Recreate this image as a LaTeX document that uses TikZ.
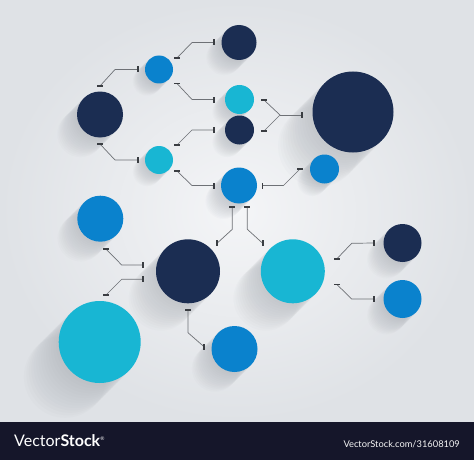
\documentclass[tikz,border=0pt]{standalone}
\usepackage{fontspec}
\newfontfamily\wmfont{Lato}
\usetikzlibrary{calc,backgrounds}

\definecolor{dotnavy}{HTML}{1B2D52}
\definecolor{dotblue}{HTML}{0A82CD}
\definecolor{dotcyan}{HTML}{18B6D3}
\definecolor{linkgray}{HTML}{6E7176}
\definecolor{tickgray}{HTML}{3A3D42}
\definecolor{bginner}{HTML}{F4F5F7}
\definecolor{bgouter}{HTML}{DFE2E6}
\definecolor{shadowgray}{HTML}{9EA3AA}
\definecolor{barnavy}{HTML}{15162A}

\begin{document}
\begin{tikzpicture}[x=1pt, y=-1pt,
    navydot/.style ={circle, fill=dotnavy, inner sep=0pt},
    bluedot/.style ={circle, fill=dotblue, inner sep=0pt},
    cyandot/.style ={circle, fill=dotcyan, inner sep=0pt},
    link/.style ={draw=linkgray, line width=0.7pt},
    htick/.style ={fill=tickgray, inner sep=0pt, minimum width=6pt, minimum height=1.6pt},
    vtick/.style ={fill=tickgray, inner sep=0pt, minimum width=1.6pt, minimum height=6pt}]
   \useasboundingbox (0,0) rectangle (474,460);

   % circles
   \node[navydot, minimum size=35pt] (n1) at (239,42.5)  {};
   \node[navydot, minimum size=46pt] (n2) at (100,114.5) {};
   \node[navydot, minimum size=29pt] (n3) at (239.5,130) {};
   \node[navydot, minimum size=81pt] (n4) at (353,112)   {};
   \node[navydot, minimum size=64pt] (n5) at (188,271.3) {};
   \node[navydot, minimum size=38pt] (n6) at (402.5,243) {};
   \node[bluedot, minimum size=28pt] (b1) at (159,69.5)  {};
   \node[bluedot, minimum size=36pt] (b2) at (239,185.5) {};
   \node[bluedot, minimum size=29pt] (b3) at (324.5,169) {};
   \node[bluedot, minimum size=46pt] (b4) at (100.3,218.7) {};
   \node[bluedot, minimum size=46pt] (b5) at (234.5,349) {};
   \node[bluedot, minimum size=38pt] (b6) at (402.5,299) {};
   \node[cyandot, minimum size=29pt] (c1) at (239.5,99.5) {};
   \node[cyandot, minimum size=28pt] (c2) at (159,160)   {};
   \node[cyandot, minimum size=64pt] (c3) at (292.8,271.3) {};
   \node[cyandot, minimum size=82pt] (c4) at (99.7,342)  {};

   % connectors
   \draw[link] ($(b1)+(18,-11.5)$) node[htick]{} -- ++(15,-15.5) -- ($(n1)+(-25,0)$) node[vtick]{};
   \draw[link] ($(b1)+(18,14)$) node[htick]{} -- ++(15,16) -- ($(c1)+(-25.5,0)$) node[vtick]{};
   \draw[link] ($(n2)+(0,-28.5)$) node[htick]{} -- ++(15,-16.5) -- ($(b1)+(-21,0)$) node[vtick]{};
   \draw[link] ($(n2)+(0,29.5)$) node[htick]{} -- ++(15,16) -- ($(c2)+(-21,0)$) node[vtick]{};
   \draw[link] ($(c2)+(18,-15)$) node[htick]{} -- ++(15,-15) -- ($(n3)+(-25.5,0)$) node[vtick]{};
   \draw[link] ($(c2)+(18,11)$) node[htick]{} -- ++(15,14.5) -- ($(b2)+(-25,0)$) node[vtick]{};
   \draw[link] ($(b2)+(23.5,0)$) node[vtick]{} -- ++(21,0) -- ($(b3)+(-24.5,0)$) node[htick]{};

   \coordinate (fork) at ($(n4)+(-73,3)$);
   \draw[link] ($(c1)+(24.5,0.5)$) node[htick]{} -- (fork) -- ($(n3)+(24.5,1)$) node[htick]{};
   \draw[link] (fork) -- ($(n4)+(-51,3)$) node[vtick]{};

   \draw[link] ($(b2)+(-6.7,21.2)$) node[htick]{} -- ++(0,22.6) -- ($(n5)+(29,-28)$) node[vtick]{};
   \draw[link] ($(b2)+(8.3,21.2)$) node[htick]{} -- ++(0,22.6) -- ($(c3)+(-30.1,-28)$) node[vtick]{};
   \draw[link] ($(b4)+(5.7,30.3)$) node[htick]{} -- ++(15.7,16) -- ($(n5)+(-45.3,-6.3)$) node[vtick]{};
   \draw[link] ($(c4)+(6.3,-47)$) node[htick]{} -- ++(15.7,-15.7) -- ($(n5)+(-45.3,8)$) node[vtick]{};
   \draw[link] ($(n5)+(0,38.7)$) node[htick]{} -- ++(0,22.7) -- ($(b5)+(-30.5,-2.3)$) node[vtick]{};
   \draw[link] ($(c3)+(43.9,-12.3)$) node[htick]{} -- ++(15,-15.7) -- ($(n6)+(-28.5,0)$) node[vtick]{};
   \draw[link] ($(c3)+(43.9,13)$) node[htick]{} -- ++(15,14.7) -- ($(b6)+(-28.5,0)$) node[vtick]{};

   % backdrop and long shadows
   \begin{scope}[on background layer]
     \shade[inner color=bginner, outer color=bgouter] (0,0) rectangle (474,422);
     \foreach \spot in {n1,n2,n3,n4,n5,n6,b1,b2,b3,b4,b5,b6,c1,c2,c3,c4}
       \foreach \k in {1,...,14}
         \path[fill=shadowgray, fill opacity=0.04]
           let \p1=($(\spot.east)-(\spot.center)$), \n1={\k*0.06*\x1} in
           ([xshift=-\n1, yshift=-\n1]\spot.center) circle [radius=\x1];
   \end{scope}

   % watermark bar
   \fill[barnavy] (0,422) rectangle (474,460);
   \node[anchor=base west, inner sep=0pt, text=white, font=\wmfont\fontsize{16}{16}\selectfont]
     (brand) at (14,446.5) {Vector\textbf{Stock}\raisebox{6pt}{\fontsize{5}{5}\selectfont\textregistered}};
   \node[anchor=base east, inner sep=0pt, text=white!92!gray, font=\wmfont\fontsize{9.3}{9.3}\selectfont]
     (ref) at (460,447.5) {VectorStock.com/31608109};
\end{tikzpicture}
\end{document}
